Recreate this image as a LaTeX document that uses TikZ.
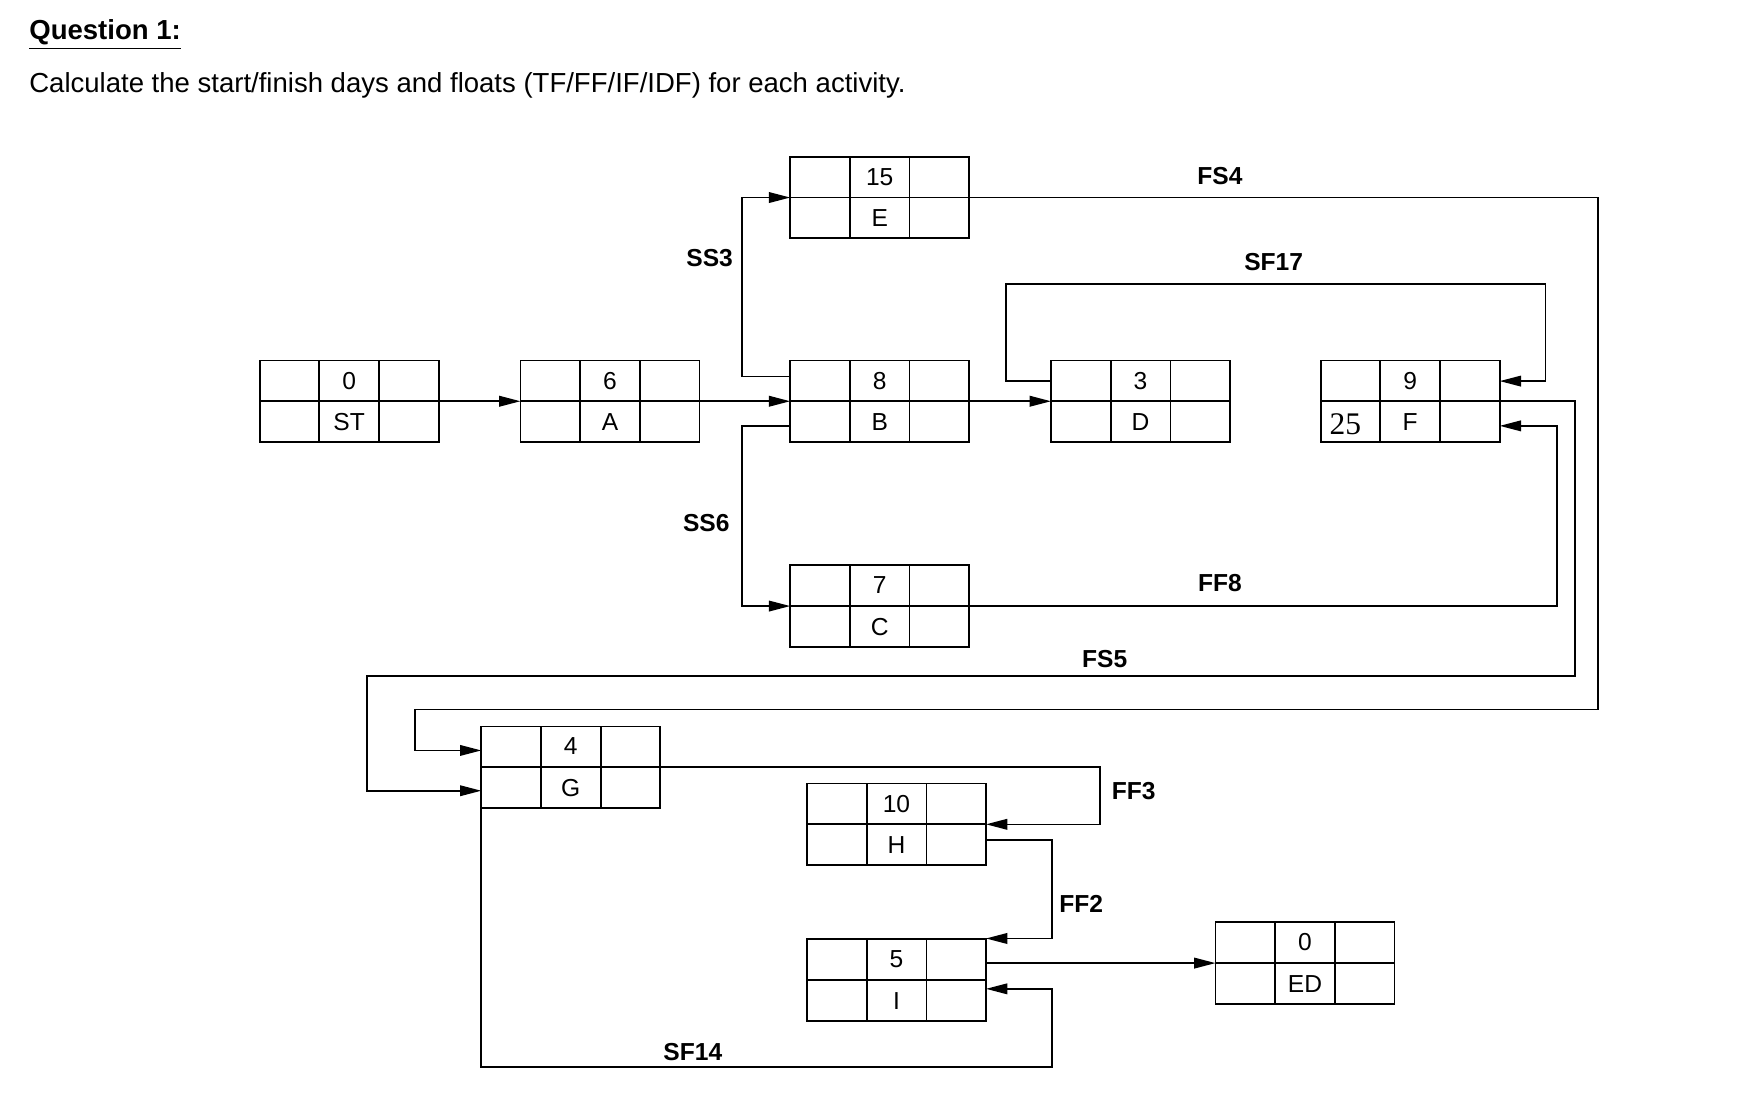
\documentclass[tikz,border=0pt]{standalone}
\usepackage{fontspec}
\setmainfont{Liberation Sans}
\newfontfamily\serifnum{Liberation Serif}
\usetikzlibrary{calc,arrows.meta}
\tikzset{
  abox/.style={draw,line width=0.9pt,minimum width=3.2cm,minimum height=1.46cm,inner sep=0pt,outer sep=0pt},
  arr/.style={line width=0.8pt,-{Triangle[length=0.38cm,width=0.19cm]}},
  ln/.style={line width=0.8pt},
  lbl/.style={font=\bfseries\fontsize{12.5}{14}\selectfont},
  txt/.style={font=\fontsize{12.5}{14}\selectfont}
}
\newcommand\abox[5]{%
  \node[abox,anchor=north west] (#1) at (#2,#3) {};
  \draw[line width=0.9pt] ($(#1.north west)+(53.3,0)$) -- ($(#1.south west)+(53.3,0)$);
  \draw[line width=0.9pt] ($(#1.north west)+(106.7,0)$) -- ($(#1.south west)+(106.7,0)$);
  \draw[line width=0.9pt] (#1.west) -- (#1.east);
  \node[txt] (#1n) at ($(#1.north)+(0,18)$) {#4};
  \node[txt] (#1l) at ($(#1.south)+(0,-18)$) {#5};
}
\begin{document}
\begin{tikzpicture}[x=0.02cm,y=-0.02cm]
\useasboundingbox (0,0) rectangle (1560,994);
\node[anchor=west,font=\bfseries\fontsize{14}{16}\selectfont] (q) at (20,31) {\underline{Question 1:}};
\node[anchor=west,font=\fontsize{14}{16}\selectfont] (t) at (20,76) {Calculate the start/finish days and floats (TF/FF/IF/IDF) for each activity.};
\abox{ST}{232}{322}{0}{ST}
\abox{A}{465}{322}{6}{A}
\abox{B}{706}{322}{8}{B}
\abox{D}{939}{322}{3}{D}
\abox{F}{1180}{322}{9}{F}
\abox{E}{706}{140}{15}{E}
\abox{C}{706}{505}{7}{C}
\abox{G}{430}{649}{4}{G}
\abox{H}{721}{700}{10}{H}
\abox{I}{721}{839}{5}{I}
\abox{ED}{1086}{824}{0}{ED}
\node[font=\serifnum\fontsize{16}{18}\selectfont] (f25) at ($(F.south west)+(22,-16)$) {25};
\draw[arr] (ST.east) -- (A.west);
\draw[arr] (A.east) -- (B.west);
\draw[arr] (B.east) -- (D.west);
\draw[arr] ($(B.west)+(0,-22)$) -- ++(-43,0) |- (E.west);
\draw[arr] ($(B.west)+(0,22)$) -- ++(-43,0) |- (C.west);
\draw[arr] ($(D.west)+(0,-18)$) -- ++(-40,0) -- ++(0,-87) -| ($(F.east)+(41,-18)$) -- ($(F.east)+(0,-18)$);
\draw[arr] (E.east) -| (1428,634) -| ($(G.west)+(-59,-15)$) -- ($(G.west)+(0,-15)$);
\draw[arr] (F.east) -| (1407,604) -| ($(G.west)+(-102,21)$) -- ($(G.west)+(0,21)$);
\draw[arr] (C.east) -| ($(F.east)+(51,22)$) -- ($(F.east)+(0,22)$);
\draw[arr] (G.east) -| ($(H.east)+(102,0)$) -- (H.east);
\draw[arr] ($(H.east)+(0,14)$) -- ++(59,0) |- ($(I.east)+(0,-37)$);
\draw[arr] (I.east |- ED.west) -- (ED.west);
\draw[arr] (G.south west) |- ($(I.east)+(59,78)$) -- ++(0,-70) -- ($(I.east)+(0,8)$);
\node[lbl] (l1) at (634,231) {SS3};
\node[lbl] (l2) at (631,467) {SS6};
\node[lbl] (l3) at (1090,157) {FS4};
\node[lbl] (l4) at (1138,234) {SF17};
\node[lbl] (l5) at (1090,521) {FF8};
\node[lbl] (l6) at (987,589) {FS5};
\node[lbl] (l7) at (1013,707) {FF3};
\node[lbl] (l8) at (966,808) {FF2};
\node[lbl] (l9) at (619,940) {SF14};
\end{tikzpicture}
\end{document}
